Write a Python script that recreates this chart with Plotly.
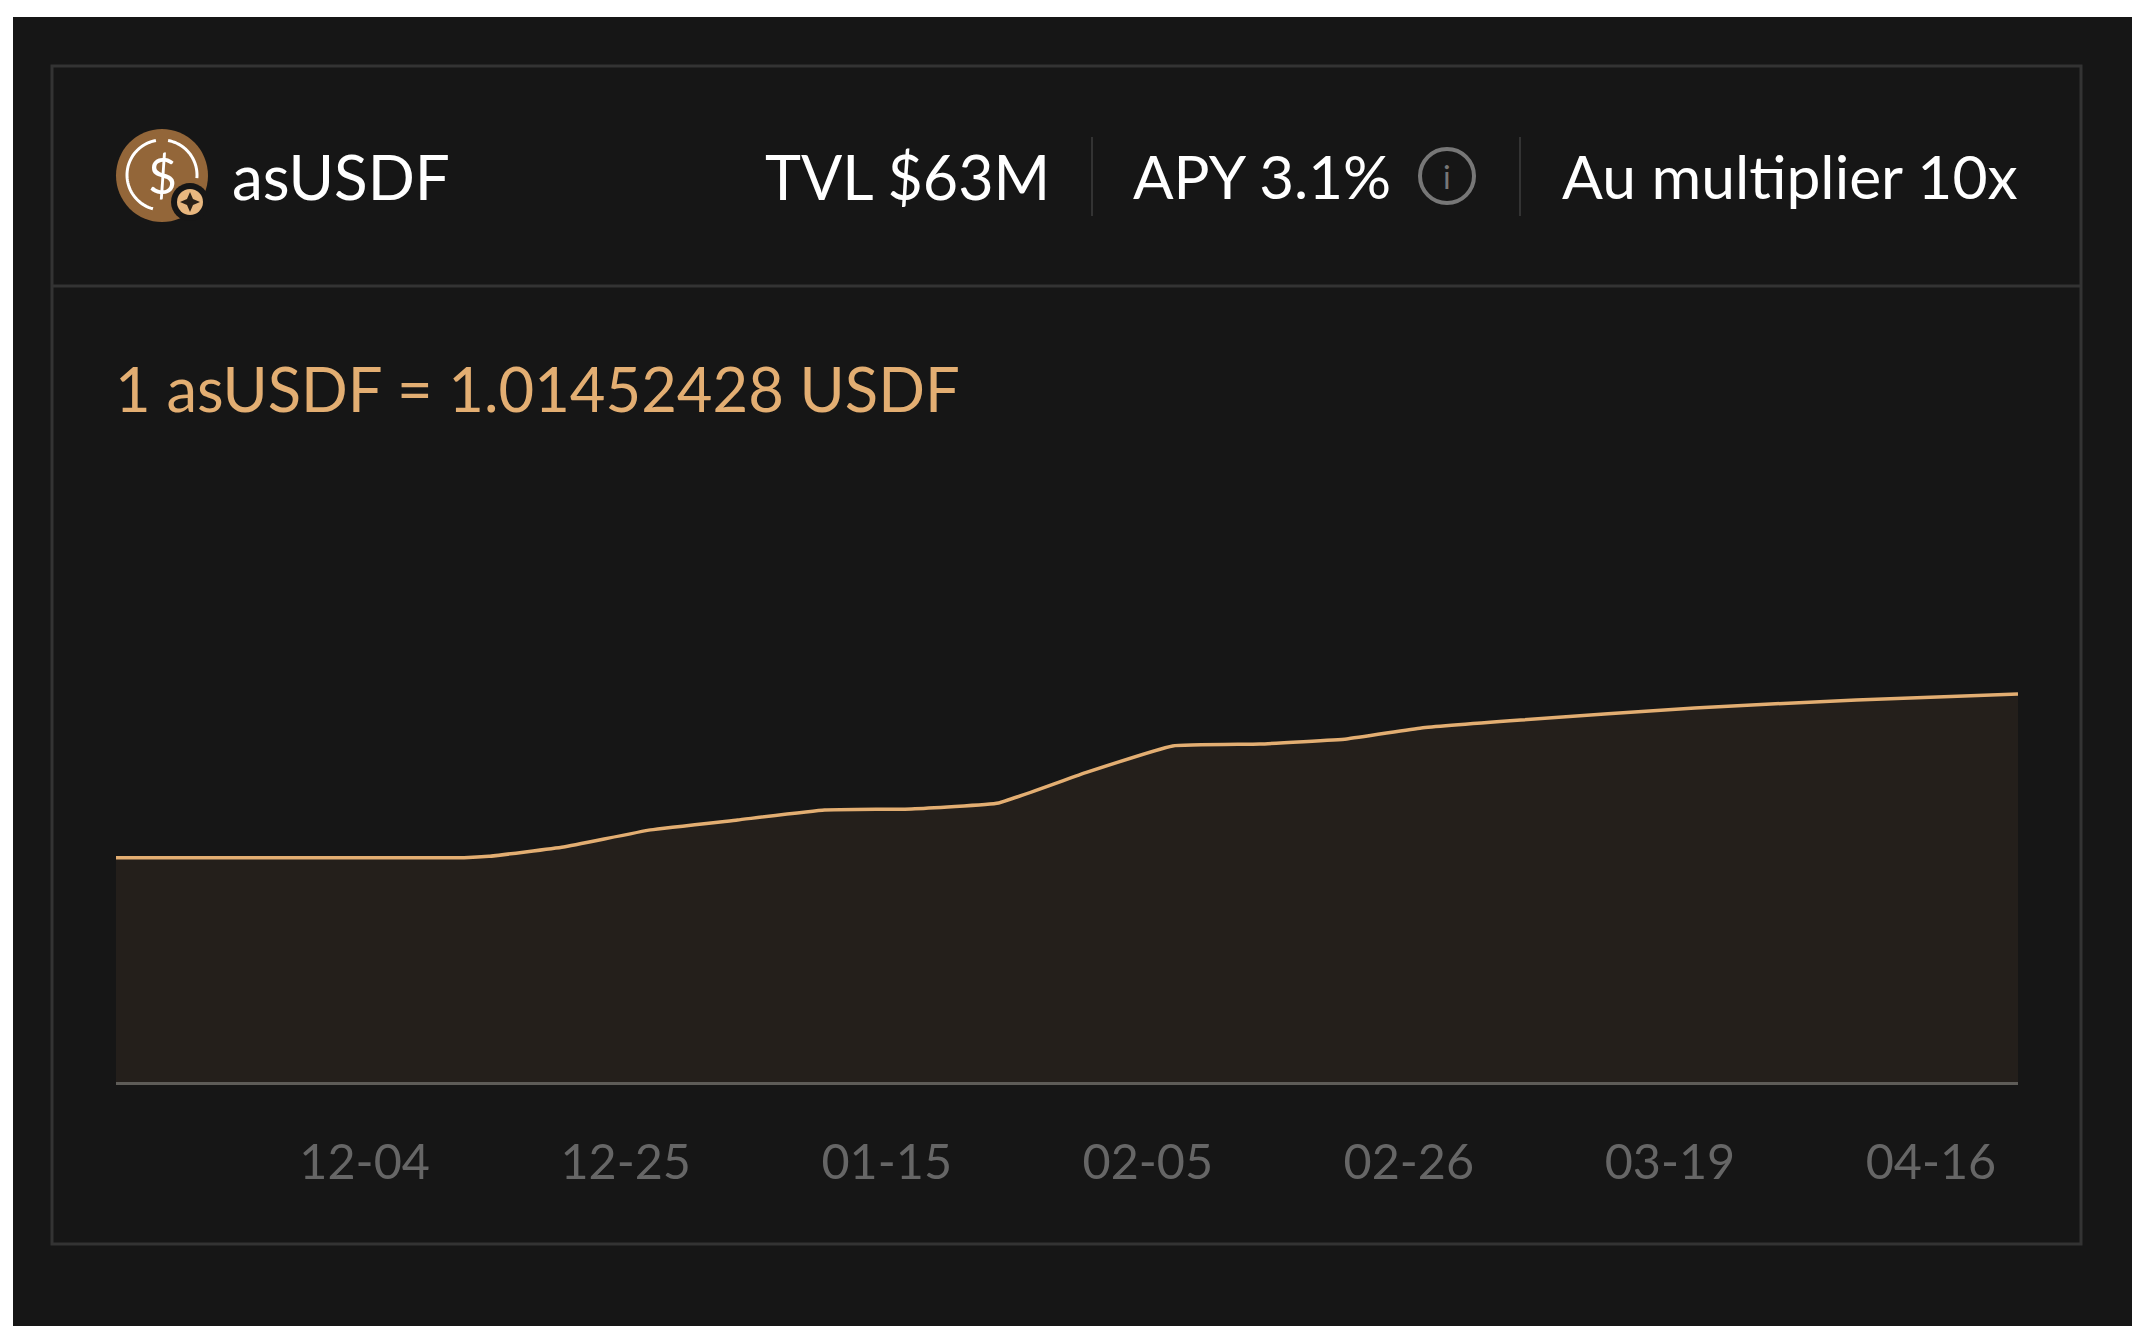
import math
import plotly.graph_objects as go

# --- data ---
days = [0, 14, 28, 30, 36, 43, 50, 57, 64, 71, 78, 85, 92, 99, 105, 113, 127, 140, 153]
rate = [1.0, 1.0, 1.0, 1.00012, 1.00095, 1.00247, 1.00335, 1.00423, 1.00433, 1.00486,
        1.00755, 1.00992, 1.01009, 1.01054, 1.01152, 1.01222, 1.01330, 1.01400, 1.01452428]
tick_days = [20, 41, 62, 83, 104, 125, 146]
tick_labels = ["12-04", "12-25", "01-15", "02-05", "02-26", "03-19", "04-16"]
token = "asUSDF"
stats = ["TVL $63M", "APY 3.1%", "Au multiplier 10x"]
rate_text = "1 asUSDF = 1.01452428 USDF"

W, H = 2150, 1336
L, R, T, B = 116, 2018, 500, 1082
FONT = "Lato"
GOLD = "#e3ae72"
BG = "#161616"
EDGE = "#333333"


def px(x):
    return (x - L) / (R - L)


def py(y):
    return (B - y) / (B - T)


def rect(x0, y0, x1, y1, fill=None, line=None, width=0, kind="rect"):
    return dict(type=kind, xref="paper", yref="paper", x0=px(x0), x1=px(x1), y0=py(y0), y1=py(y1),
                fillcolor=fill or "rgba(0,0,0,0)", line=dict(color=line or "rgba(0,0,0,0)", width=width),
                layer="below")


def poly(points, color=None, width=0, fill=None):
    path = "M " + " L ".join(f"{px(a):.5f},{py(b):.5f}" for a, b in points)
    if fill:
        path += " Z"
    return dict(type="path", xref="paper", yref="paper", path=path,
                line=dict(color=color or "rgba(0,0,0,0)", width=width),
                fillcolor=fill or "rgba(0,0,0,0)", layer="above")


def arc(cx, cy, r, a0, a1, color, width):
    pts = []
    for i in range(41):
        a = math.radians(a0 + (a1 - a0) * i / 40)
        pts.append((cx + r * math.cos(a), cy - r * math.sin(a)))
    return poly(pts, color, width)


def label(text, x, y, size, color, anchor="left"):
    return dict(text=text, x=px(x), y=py(y), xref="paper", yref="paper", xanchor=anchor, yanchor="middle",
                showarrow=False, font=dict(family=FONT, size=size, color=color))


badge_star = [(190, 192), (193, 199), (200, 202), (193, 205), (190, 212), (187, 205), (180, 202), (187, 199)]

shapes = [
    rect(13, 17, 2132, 1326, fill=BG),
    rect(52, 66, 2081, 1244, line=EDGE, width=3),
    dict(type="line", xref="paper", yref="paper", x0=px(52), x1=px(2081), y0=py(286), y1=py(286),
         line=dict(color=EDGE, width=3), layer="below"),
    dict(type="line", xref="paper", yref="paper", x0=px(1092), x1=px(1092), y0=py(137), y1=py(216),
         line=dict(color=EDGE, width=2), layer="below"),
    dict(type="line", xref="paper", yref="paper", x0=px(1520), x1=px(1520), y0=py(137), y1=py(216),
         line=dict(color=EDGE, width=2), layer="below"),
    rect(116, 129, 208, 222, fill="#936639", kind="circle"),
    arc(162, 175, 35, 100, 255, "#ffffff", 3),
    arc(162, 175, 35, 80, -5, "#ffffff", 3),
    rect(171, 183, 209, 221, fill=BG, kind="circle"),
    rect(177, 189, 203, 215, fill="#e8b77f", kind="circle"),
    poly(badge_star, fill="#2a2118"),
    dict(type="circle", xref="paper", yref="paper", x0=px(1420), x1=px(1474), y0=py(149), y1=py(203),
         line=dict(color="#777777", width=4), fillcolor="rgba(0,0,0,0)", layer="below"),
]

annotations = [
    label("$", 162, 175, 50, "#ffffff", "center"),
    label(token, 230, 176, 62, "#ffffff"),
    label(stats[0], 763, 176, 61, "#ffffff"),
    label(stats[1], 1131, 176, 60, "#ffffff"),
    label("i", 1447, 176, 32, "#777777", "center"),
    label(stats[2], 2020, 175, 60.5, "#ffffff", "right"),
    label(rate_text, 113, 388, 61.5, GOLD),
]

# the axis line sits just under the plot area, so the lower bound is set 1 px above 0.98
fig = go.Figure(go.Scatter(
    x=days, y=rate, mode="lines",
    line=dict(color=GOLD, width=3.5, shape="spline", smoothing=0.3),
    fill="tozeroy", fillcolor="#241f1b", hoverinfo="skip",
))
fig.update_layout(
    width=W, height=H, autosize=False, showlegend=False,
    margin=dict(l=L, r=W - R, t=T, b=H - B, pad=0),
    paper_bgcolor="#ffffff", plot_bgcolor=BG,
    shapes=shapes, annotations=annotations,
    font=dict(family=FONT),
)
fig.update_xaxes(range=[0, 153], showgrid=False, zeroline=False, showline=True, linecolor="#5e5c58", linewidth=3,
                 tickmode="array", tickvals=tick_days, ticktext=tick_labels, ticks="",
                 ticklabelstandoff=36, tickfont=dict(family=FONT, size=48.5, color="#666666"))
fig.update_yaxes(range=[0.98 + 1 / 11265, 0.98 + (B + 1 - T) / 11265], visible=False, showgrid=False, zeroline=False)
fig.write_html("out.html", config={"displayModeBar": False},
               post_script="document.body.style.margin='0';document.body.style.background='#ffffff';")
